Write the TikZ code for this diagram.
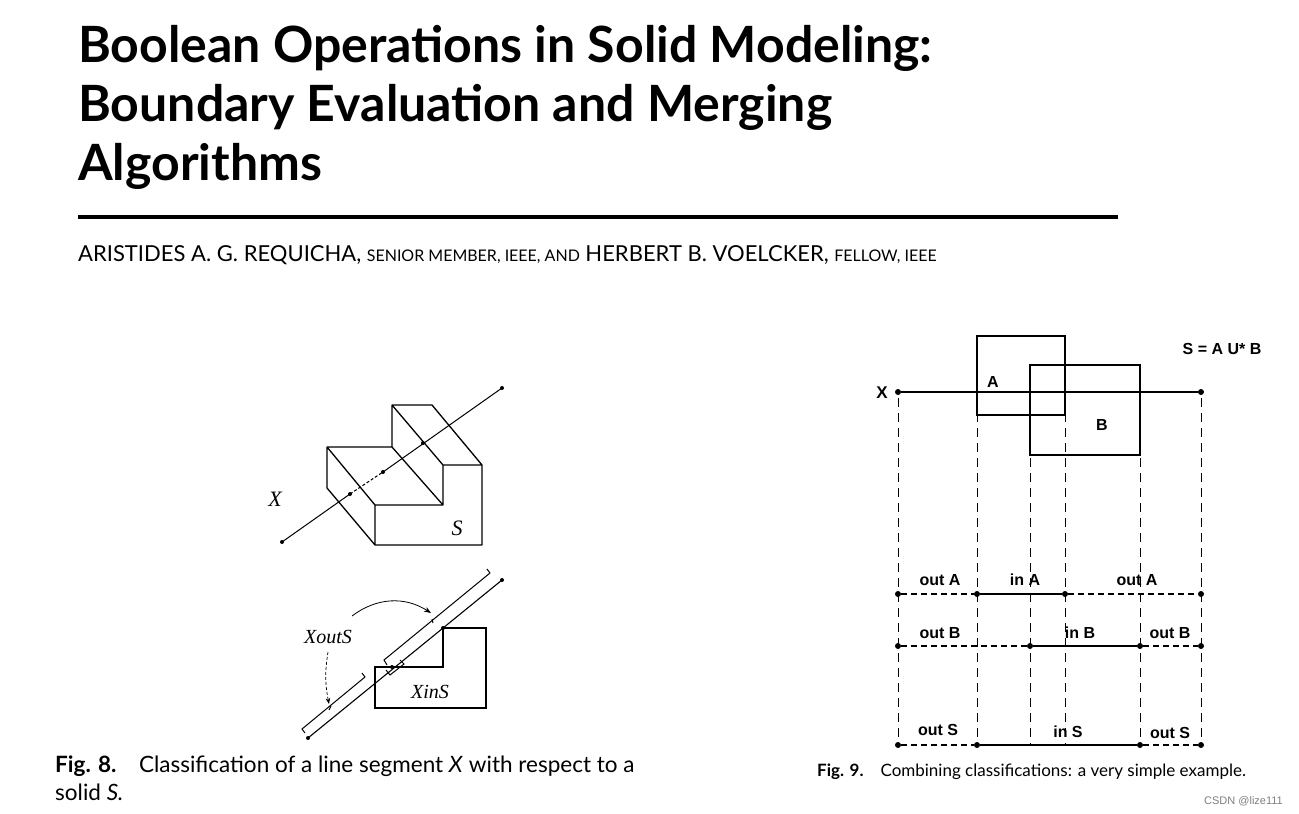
\documentclass[tikz,border=0pt]{standalone}
\usepackage{fontspec}
\setmainfont{Lato}
\newfontfamily\lab{Liberation Sans}
\newfontfamily\ital{Liberation Serif}
\usetikzlibrary{arrows.meta}
\begin{document}
\begin{tikzpicture}[x=1pt,y=-1pt,
  ln/.style={line width=1.6pt},
  dl/.style={line width=1.4pt,dash pattern=on 6pt off 4pt},
  vd/.style={line width=1pt,dash pattern=on 9pt off 6pt},
  dot/.style={circle,fill,inner sep=0pt,minimum size=6pt},
  sdot/.style={circle,fill,inner sep=0pt,minimum size=4pt},
  lb/.style={font=\lab\bfseries\fontsize{16}{16}\selectfont,inner sep=0pt,anchor=base},
  it/.style={font=\ital\itshape\fontsize{22}{22}\selectfont,inner sep=0pt,anchor=base},
  txt/.style={inner sep=0pt,anchor=base west}]
\useasboundingbox (0,0) rectangle (1299,814);
\fill[white] (0,0) rectangle (1299,814);
% title
\node[txt,font=\bfseries\fontsize{50}{50}\selectfont] (t1) at (78,62) {Boolean Operations in Solid Modeling:};
\node[txt,font=\bfseries\fontsize{50}{50}\selectfont] (t2) at (78,121) {Boundary Evaluation and Merging};
\node[txt,font=\bfseries\fontsize{50}{50}\selectfont] (t3) at (78,180) {Algorithms};
\coordinate (r1) at (78,217); \coordinate (r2) at (1118,217);
\draw[line width=4pt] (r1) -- (r2);
\node[txt,font=\fontsize{22}{22}\selectfont] (au) at (78,261) {ARISTIDES A. G. REQUICHA, {\fontsize{16}{16}\selectfont SENIOR MEMBER, IEEE, AND} HERBERT B. VOELCKER, {\fontsize{16}{16}\selectfont FELLOW, IEEE}};
% ---- Fig 8 top solid
\draw[line width=1.3pt,line join=round]
  (327,447)--(392,447)--(392,405)--(432,405)--(482,465)--(482,545)--(375,545)--(327,488)--cycle
  (327,447)--(375,505)--(443,505)--(392,447)
  (392,405)--(443,465)--(482,465)
  (443,465)--(443,505) (375,505)--(375,545);
\node[sdot] (x0) at (282,542) {}; \node[sdot] (x1) at (350,494) {};
\node[sdot] (x2) at (383,472) {}; \node[sdot] (x3) at (423,443) {};
\node[sdot] (x4) at (502,388) {};
\draw[line width=1pt] (x0.center)--(x1.center) (x2.center)--(x4.center);
\draw[line width=1pt,dash pattern=on 3pt off 2pt] (x1.center)--(x2.center);
\node[it] (lx) at (275,506) {X};
\node[it] (ls) at (457,535) {S};
% ---- Fig 8 bottom
\draw[line width=1.3pt] (443,628)--(486,628)--(486,708)--(375,708)--(375,667)--(443,667)--cycle;
\node[sdot] (y0) at (308,738) {}; \node[sdot] (y1) at (502,580) {};
\node[sdot] (y2) at (443,628) {}; \node[sdot] (y3) at (392,667) {};
\draw[line width=1.1pt] (y0.center)--(y1.center);
% bracket lines
\draw[line width=1pt] (305,733)--(302,729)--(365,677)--(362,673);
\draw[line width=1pt] (329,710)--(331,706);
\draw[line width=1pt] (387,665)--(384,660)--(490,573)--(487,569);
\draw[line width=1pt] (433,623)--(432,619);
\draw[line width=1pt] (386,670)--(390,675)--(404,664)--(400,660);
\node[it,font=\ital\itshape\fontsize{20}{20}\selectfont] (xo) at (328,643) {XoutS};
\node[it,font=\ital\itshape\fontsize{20}{20}\selectfont] (xi) at (430,698) {XinS};
\draw[line width=0.8pt,-{Stealth[length=7pt]}] (352,616) to[bend left=35] (431,613);
\draw[line width=0.7pt,dash pattern=on 3pt off 2pt,-{Stealth[length=6pt]}] (328,652) to[bend right=10] (329,704);
\node[txt,font=\fontsize{22.5}{22.5}\selectfont] (c8a) at (55,772) {\textbf{Fig. 8.}\quad Classification of a line segment \textit{X} with respect to a};
\node[txt,font=\fontsize{22.5}{22.5}\selectfont] (c8b) at (55,800) {solid \textit{S.}};
% ---- Fig 9
\draw[line width=1.6pt] (977,336) rectangle (1065,415);
\draw[line width=1.6pt] (1030,365) rectangle (1140,455);
\node[dot] (p0) at (898,392) {}; \node[dot] (p1) at (1201,392) {};
\draw[ln] (p0)--(p1);
\node[lb,anchor=base east] (lX) at (888,398) {\fontsize{17}{17}\selectfont X};
\node[lb] (lA) at (993,387) {A};
\node[lb] (lB) at (1102,430) {B};
\node[lb] (lS) at (1222,354) {S = A U* B};
\foreach \x in {898,977,1030,1065,1140,1201} \draw[vd] (\x,398)--(\x,745);
% row A
\foreach \x/\n in {898/a0,977/a1,1065/a2,1201/a3} \node[dot] (\n) at (\x,594) {};
\draw[dl] (a0)--(a1); \draw[ln] (a1)--(a2); \draw[dl] (a2)--(a3);
\node[lb] (tA1) at (940,585) {out A}; \node[lb] (tA2) at (1025,585) {in A}; \node[lb] (tA3) at (1137,585) {out A};
% row B
\foreach \x/\n in {898/b0,1030/b1,1140/b2,1201/b3} \node[dot] (\n) at (\x,646) {};
\draw[dl] (b0)--(b1); \draw[ln] (b1)--(b2); \draw[dl] (b2)--(b3);
\node[lb] (tB1) at (940,638) {out B}; \node[lb] (tB2) at (1080,638) {in B}; \node[lb] (tB3) at (1170,638) {out B};
% row S
\foreach \x/\n in {898/s0,977/s1,1140/s2,1201/s3} \node[dot] (\n) at (\x,745) {};
\draw[dl] (s0)--(s1); \draw[ln] (s1)--(s2); \draw[dl] (s2)--(s3);
\node[lb] (tS1) at (938,735) {out S}; \node[lb] (tS2) at (1068,737) {in S}; \node[lb] (tS3) at (1170,738) {out S};
\node[txt,font=\fontsize{17}{17}\selectfont] (c9) at (817,776) {\textbf{Fig. 9.}\quad Combining classifications: a very simple example.};
\node[txt,anchor=base east,font=\lab\fontsize{11}{11}\selectfont,text=gray] (wm) at (1283,804) {CSDN @lize111};
\end{tikzpicture}
\end{document}
